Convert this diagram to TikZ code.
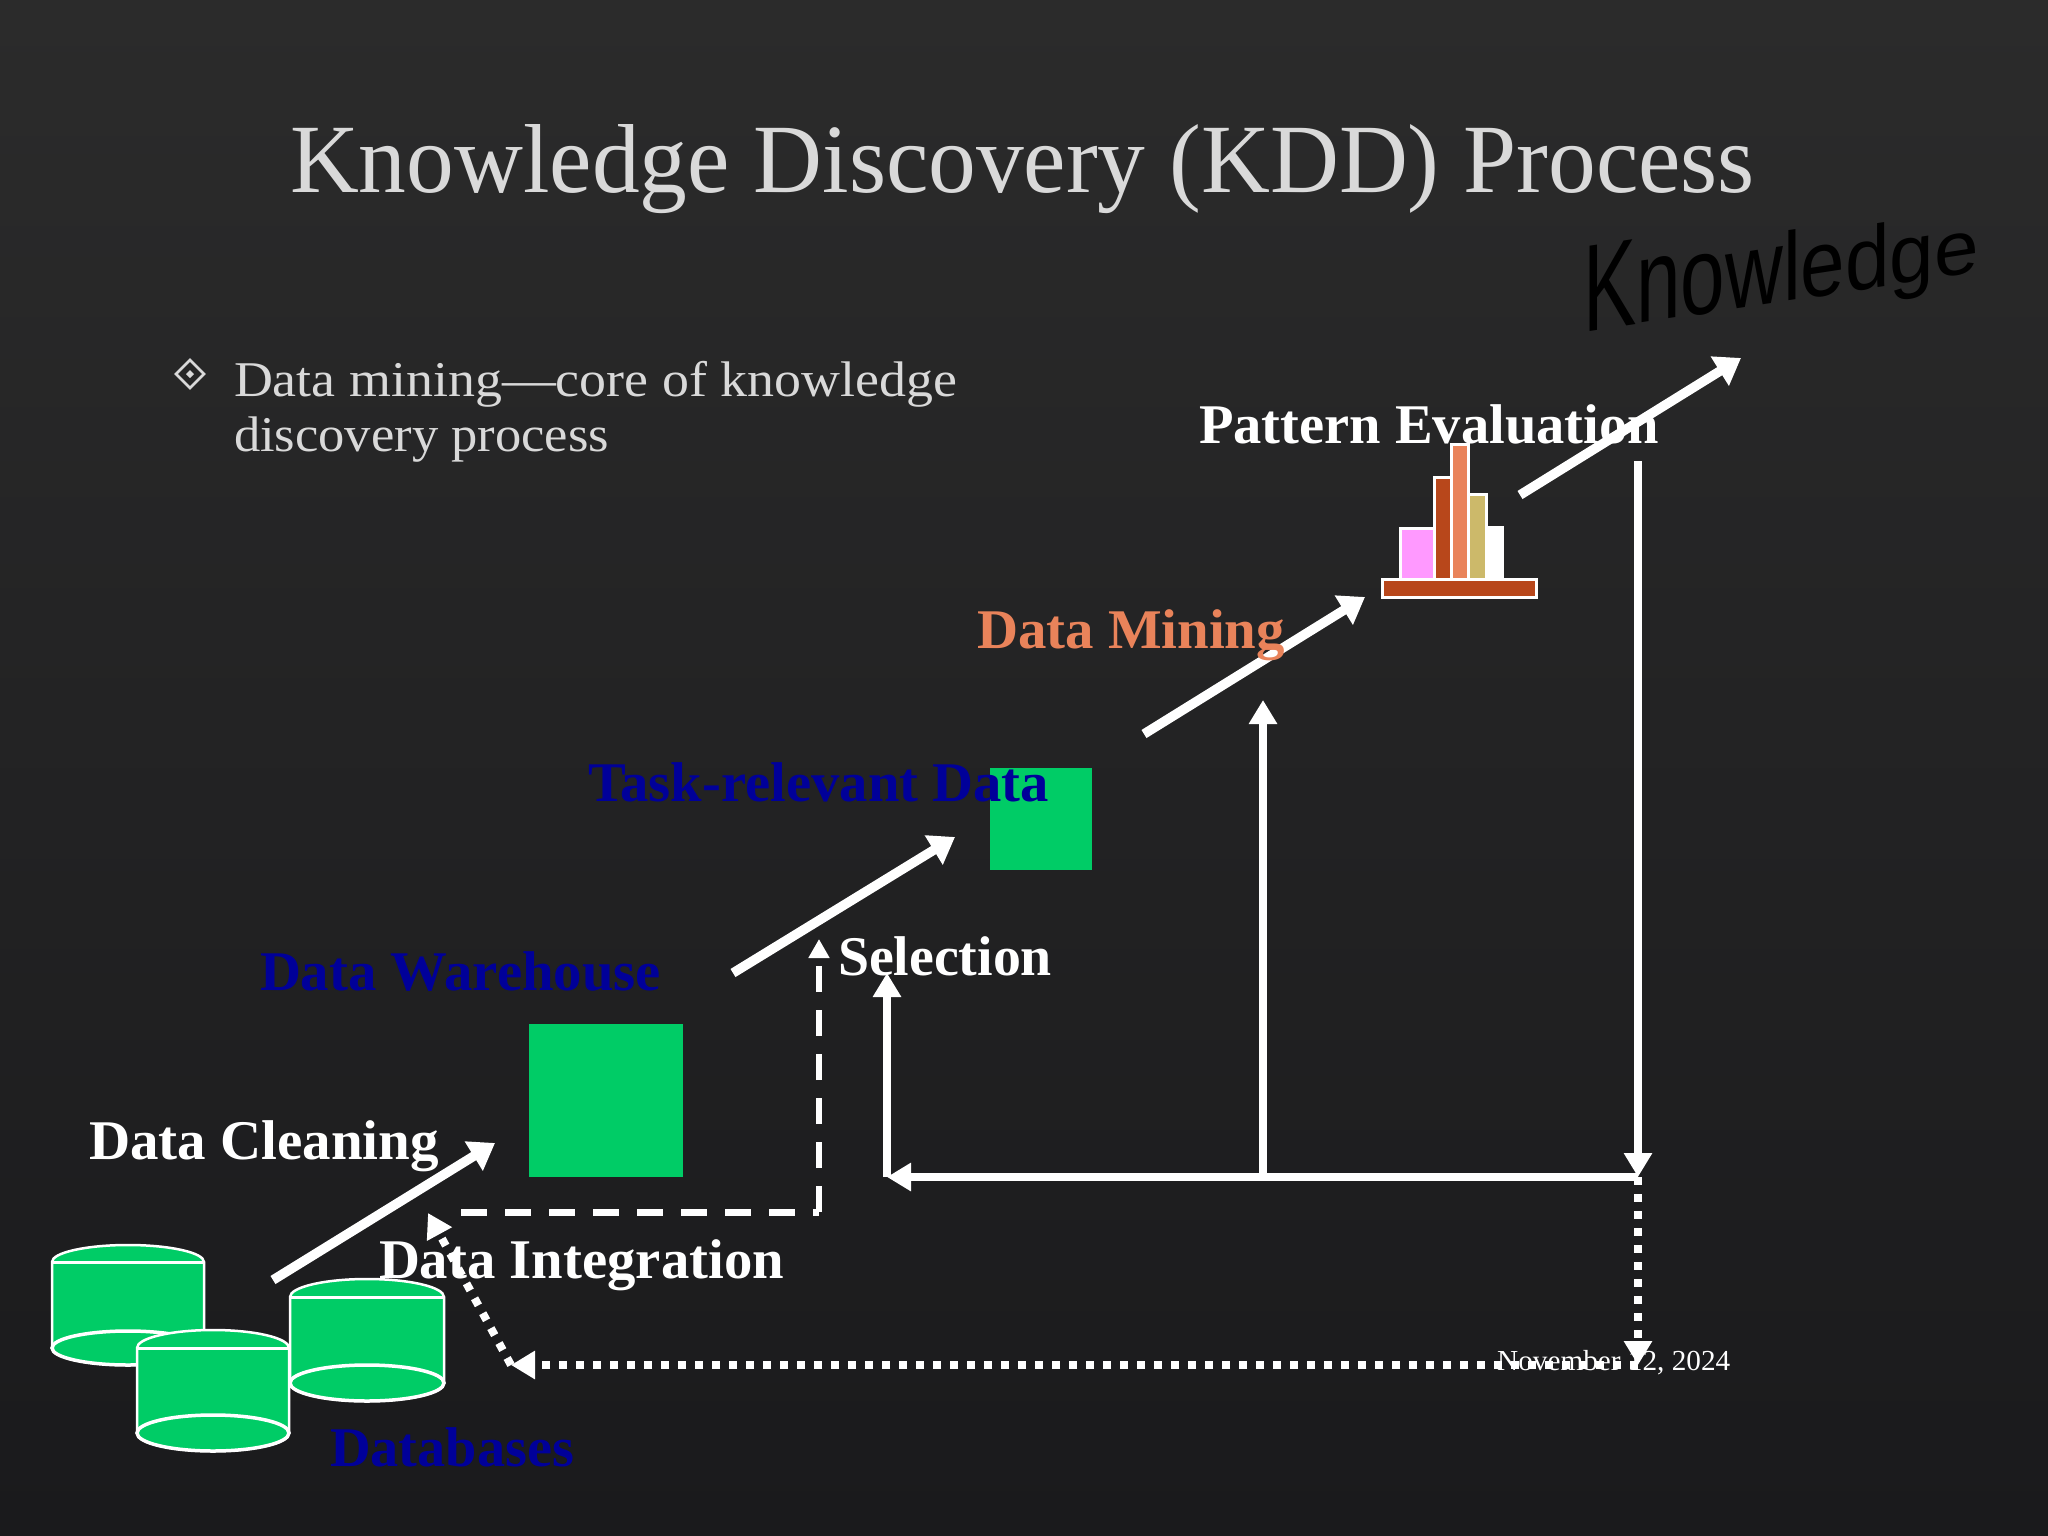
\documentclass[tikz,border=0pt]{standalone}
\usepackage{graphicx}
\usepackage{fontspec}
\setmainfont{Liberation Serif}
\newfontfamily\wafont{Liberation Sans}
\usetikzlibrary{arrows.meta}
\definecolor{deepblue}{HTML}{000099}
\definecolor{boxgreen}{HTML}{00CC66}
\definecolor{rust}{HTML}{B8471B}
\definecolor{peach}{HTML}{E9835A}
\definecolor{pinkbar}{HTML}{FF99FF}
\definecolor{tanbar}{HTML}{CCB96A}
\definecolor{slidetext}{HTML}{D9D9D9}
\definecolor{bgtop}{HTML}{2B2B2B}
\definecolor{bgmid}{HTML}{242424}
\definecolor{bgbot}{HTML}{1A1A1C}
\tikzset{
  lbl/.style={anchor=base west,inner sep=0pt,outer sep=0pt,font=\fontsize{56}{56}\selectfont\bfseries},
  plain/.style={anchor=base west,inner sep=0pt,outer sep=0pt,text=slidetext},
  flow/.style={white,line width=8pt,-{Triangle[length=24pt,width=27pt]}},
  rise/.style={white,line width=9.5pt,-{Triangle[length=25pt,width=33pt]}},
  dashflow/.style={white,line width=6.5pt,dash pattern=on 26pt off 18pt,-{Triangle[length=19pt,width=20pt]}},
  dotflow/.style={white,line width=8pt,dash pattern=on 8pt off 9pt,-{Triangle[length=24pt,width=27pt]}},
  barbox/.style={draw=white,line width=3pt},
  greenbox/.style={fill=boxgreen,draw=none,inner sep=0pt,outer sep=0pt,anchor=north west},
  cylline/.style={draw=white,line width=2.5pt,fill=boxgreen}
}
% x left, x right, dome top, band y, bottom ellipse centre y
\newcommand{\dbcyl}[5]{%
  \pgfmathsetmacro{\cx}{(#1+#2)/2}\pgfmathsetmacro{\rx}{(#2-#1)/2}%
  \pgfmathsetmacro{\ry}{#4-#3}%
  \path[cylline] (#1,#4) arc[start angle=180,end angle=0,x radius=\rx,y radius=-\ry] -- (#2,#5) arc[start angle=0,end angle=-180,x radius=\rx,y radius=-\ry] -- cycle;
  \draw[white,line width=3pt] (#1,#4) -- (#2,#4);
  \draw[cylline,line width=3.5pt] (\cx,#5) ellipse[x radius=\rx,y radius=\ry];
}
\newcommand{\waletter}[3]{%
  \pgfmathsetmacro{\wx}{1583+80*#3}%
  \pgfmathsetmacro{\wt}{(\wx-1583)/397}%
  \pgfmathsetmacro{\wy}{332-60*\wt}%
  \pgfmathsetmacro{\wh}{1.24-0.54*\wt}%
  \begin{scope}[cm={0.80,0.122,0,\wh,(\wx,\wy)}]
    \node[transform shape,anchor=base west,inner sep=0pt,outer sep=0pt,text=black,font=\wafont\fontsize{100}{100}\selectfont] (#2) at (0,0) {#1};
  \end{scope}}
\begin{document}
\begin{tikzpicture}[x=1pt,y=-1pt]
\useasboundingbox (0,0) rectangle (2048,1536);
\shade[top color=bgtop, middle color=bgmid, bottom color=bgbot] (0,0) rectangle (2048,1536);

% title and bullet
\node[plain,font=\fontsize{98}{98}\selectfont] (title) at (290,193) {\resizebox{1465pt}{\height}{Knowledge Discovery (KDD) Process}};
\draw[slidetext,line width=2.5pt] (190,360) -- (204,374) -- (190,388) -- (176,374) -- cycle;
\fill[slidetext] (190,370) -- (194,374) -- (190,378) -- (186,374) -- cycle;
\node[plain,font=\fontsize{50}{50}\selectfont] (bulleta) at (234,396) {\resizebox{723pt}{\height}{Data mining—core of knowledge}};
\node[plain,font=\fontsize{50}{50}\selectfont] (bulletb) at (234,451) {\resizebox{375pt}{\height}{discovery process}};

% boxes
\node[greenbox,minimum width=154pt,minimum height=153pt] (warehouse) at (529,1024) {};
\node[greenbox,minimum width=102pt,minimum height=102pt] (taskbox) at (990,768) {};

% databases
\dbcyl{52}{204}{1245}{1262}{1348}
\dbcyl{137}{289}{1330}{1348}{1433}
\dbcyl{290}{444}{1279}{1297}{1383}

% connector ends
\coordinate (a1s) at (273,1280); \coordinate (a1e) at (495,1143);
\coordinate (a2s) at (733,973);  \coordinate (a2e) at (955,837);
\coordinate (a3s) at (1144,734); \coordinate (a3e) at (1365,597);
\coordinate (a4s) at (1520,495); \coordinate (a4e) at (1741,358);
\coordinate (fbtop) at (1638,461);
\coordinate (fbc) at (1638,1177);
\coordinate (fbl) at (887,1177);
\coordinate (fbsel) at (887,973);
\coordinate (fbm) at (1263,1177);
\coordinate (fbmt) at (1263,700);
\coordinate (dotc) at (1638,1365);
\coordinate (dotl) at (511,1365);
\coordinate (dott) at (428,1213);
\coordinate (dsl) at (461,1212);
\coordinate (dsr) at (819,1212);
\coordinate (dst) at (819,939);

% solid arrows
\draw[rise] (a1s) -- (a1e);
\draw[rise] (a2s) -- (a2e);
\draw[rise] (a3s) -- (a3e);
\draw[rise] (a4s) -- (a4e);
\draw[flow] (fbtop) -- (fbc);
\draw[flow] (fbc) -- (fbl);
\draw[flow] (fbl) -- (fbsel);
\draw[flow] (fbm) -- (fbmt);

% dashed and dotted
\draw[white,line width=7pt,dash pattern=on 26pt off 18pt] (dsl) -- (dsr);
\draw[dashflow] (dsr) -- (dst);
\draw[dotflow] (fbc) -- (dotc);
\draw[dotflow] (dotc) -- (dotl);
\draw[dotflow] (dotl) -- (dott);

% labels
\node[lbl,text=white] (patterneval) at (1199,443) {\resizebox{460pt}{\height}{Pattern Evaluation}};
\node[lbl,text=peach] (mining) at (977,648) {\resizebox{308pt}{\height}{Data Mining}};
\node[lbl,text=deepblue] (taskdata) at (588,801) {\resizebox{461pt}{\height}{Task-relevant Data}};
\node[lbl,text=deepblue] (dwlabel) at (260,990) {\resizebox{401pt}{\height}{Data Warehouse}};
\node[lbl,text=white] (selection) at (838,975) {\resizebox{214pt}{\height}{Selection}};
\node[lbl,text=white] (cleaning) at (89,1159) {\resizebox{350pt}{\height}{Data Cleaning}};
\node[lbl,text=white] (integration) at (379,1278) {\resizebox{405pt}{\height}{Data Integration}};
\node[lbl,text=deepblue] (databases) at (330,1466) {\resizebox{244pt}{\height}{Databases}};
\node[anchor=base west,inner sep=0pt,text=white,font=\fontsize{29}{29}\selectfont] (date) at (1497,1370) {\resizebox{233pt}{\height}{November 12, 2024}};

% bar chart
\path[barbox,fill=pinkbar] (1400,528) rectangle (1434,579);
\path[barbox,fill=white] (1486,527) rectangle (1502,579);
\path[barbox,fill=tanbar] (1468.5,494) rectangle (1486,579);
\path[barbox,fill=rust] (1434,477) rectangle (1451,579);
\path[barbox,fill=peach] (1451,444) rectangle (1468.5,579);
\path[barbox,fill=rust] (1382.5,579) rectangle (1536,597);

% Knowledge
\waletter{K}{k1}{0}
\waletter{n}{k2}{0.667}
\waletter{o}{k3}{1.223}
\waletter{w}{k4}{1.779}
\waletter{l}{k5}{2.501}
\waletter{e}{k6}{2.723}
\waletter{d}{k7}{3.279}
\waletter{g}{k8}{3.835}
\waletter{e}{k9}{4.391}
\end{tikzpicture}
\end{document}
